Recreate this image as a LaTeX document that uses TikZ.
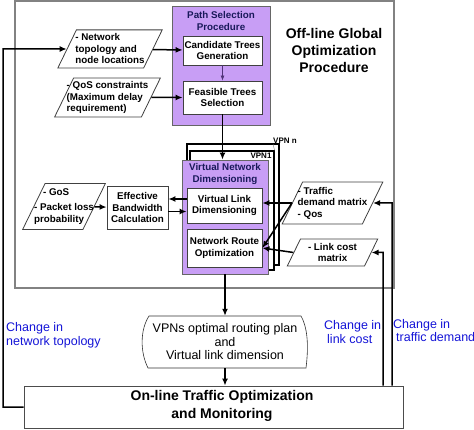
\documentclass[tikz,border=0pt]{standalone}
\usepackage{xcolor}
\usepackage{fontspec}
\setmainfont{Liberation Sans}
\usetikzlibrary{calc}
\usetikzlibrary{arrows}
\usetikzlibrary{arrows.meta}
\usetikzlibrary{shapes}
\usetikzlibrary{shapes.geometric}
\tikzset{>={Latex[length=7pt, width=6pt]}}
\definecolor{lilac}{RGB}{200,158,245}
\definecolor{navytext}{RGB}{25,25,90}
\definecolor{changeblue}{RGB}{20,20,215}
\definecolor{framegray}{RGB}{130,130,130}
\definecolor{plumline}{RGB}{80,50,120}
\newcommand{\boxfont}{\bfseries\fontsize{9.8}{11.5}\selectfont}
\newcommand{\bigfont}{\bfseries\fontsize{14}{17}\selectfont}
\newcommand{\notefont}{\fontsize{12.5}{13.5}\selectfont}
\tikzstyle{flow} = [->, line width = 1.5pt, draw = black]
\tikzstyle{proc} = [draw = black!75, fill = white, line width = 0.8pt, align = center, font = \boxfont, inner sep = 1]
\tikzstyle{param} = [trapezium, trapezium left angle = 64, trapezium right angle = 116, draw = black!75, fill = white, line width = 0.8pt, align = left, font = \boxfont]
\tikzstyle{group} = [draw = black!60, fill = lilac, line width = 0.8pt, inner sep = 0]
\tikzstyle{stack} = [draw = black, fill = white, line width = 1.2pt, inner sep = 0]
\tikzstyle{grouptitle} = [draw = none, align = center, font = \boxfont, text = navytext, inner sep = 1]
\tikzstyle{note} = [draw = none, align = left, anchor = west, inner sep = 0, text = changeblue, font = \notefont]

\begin{document}
\begin{tikzpicture}[x = 1pt, y = -1pt]
\useasboundingbox (0, 0) rectangle (474, 430);
\clip (0, 0) rectangle (474, 430);

% off-line part
\node [draw = framegray, line width = 1.3pt, minimum width = 379, minimum height = 287, inner sep = 0] (offline) at (204.5, 144.5) {};
\node [draw = none, align = center, font = \bigfont] (offtitle) at (334, 50) {Off-line Global\\Optimization\\Procedure};

% path selection
\node [group, minimum width = 98, minimum height = 119] (pathsel) at (221, 65.5) {};
\node [grouptitle] (pathtitle) at (221, 21) {Path Selection\\Procedure};
\node [proc, minimum width = 79, minimum height = 29] (cand) at (222.5, 50.5) {Candidate Trees\\Generation};
\node [proc, minimum width = 79, minimum height = 33] (feas) at (222.5, 97.5) {Feasible Trees\\Selection};
\draw [-{Latex[length=5pt, width=4pt]}, draw = plumline, line width = 0.8pt] (cand) to (feas);

\node [param, inner xsep = -1, inner ysep = 4] (topo) at (110, 49) {- Network\\topology and\\node locations};
\node [param, inner xsep = -7, inner ysep = 3.5] (qos) at (107.5, 97.5) {- QoS constraints\\(Maximum delay\\requirement)};
\draw [flow] (topo) to (cand);
\draw [flow] (qos) to (feas);

% VPN stack
\node [stack, minimum width = 92, minimum height = 121] (vpnn) at (233, 204.5) {};
\node [stack, minimum width = 84, minimum height = 119] (vpn1) at (232, 210.5) {};
\node [group, minimum width = 86, minimum height = 114] (vnd) at (225, 217) {};
\node [draw = none, font = \bfseries\fontsize{8}{9}\selectfont, inner sep = 0] (vpnnlabel) at (285, 141) {VPN n};
\node [draw = none, font = \bfseries\fontsize{8}{9}\selectfont, inner sep = 0] (vpn1label) at (261, 155.5) {VPN1};
\draw [draw = black!50, line width = 0.4pt] (vpnnlabel.south west) to (vpn1.north east);
\node [grouptitle] (vndtitle) at (225, 174) {Virtual Network\\Dimensioning};
\node [proc, minimum width = 75, minimum height = 35] (vld) at (224.5, 205.5) {Virtual Link\\Dimensioning};
\node [proc, minimum width = 75, minimum height = 38] (nro) at (224.5, 248) {Network Route\\Optimization};
\draw [flow] (feas.south) to (feas.south |- vnd.north);

% bandwidth
\node [proc, minimum width = 61, minimum height = 43] (ebc) at (137.5, 207.5) {Effective\\Bandwidth\\Calculation};
\node [param, inner xsep = -11, inner ysep = 5] (gos) at (64, 206.5) {\hspace*{9pt}- GoS\\[4pt]- Packet loss\\probability};
\coordinate (vl1) at ($(vld.west) + (0, -6.5)$);
\coordinate (vl2) at ($(vld.west) + (0, 6)$);
\draw [flow] (vl1) to (vl1 -| ebc.east);
\draw [flow] (vl2 -| ebc.east) to (vl2);
\draw [flow] (gos) to (ebc);

% traffic and cost
\node [param, inner xsep = -5, inner ysep = 5] (traffic) at (332.5, 203) {- Traffic\\demand matrix\\- Qos};
\node [param, align = center, inner xsep = 7.5, inner ysep = 4.25] (cost) at (332.5, 252.5) {- Link cost\\matrix};
\draw [flow] (traffic.left side) to (traffic.left side -| vld.east);
\draw [flow] (traffic.left side) to (nro.east);
\draw [flow] (cost.left side) to (nro.east);

% output
\node [draw = none, minimum width = 152, minimum height = 52, align = center, font = \notefont, inner sep = 0] (plan) at (225, 342) {VPNs optimal routing plan\\and\\Virtual link dimension};
\draw [draw = black!80, line width = 0.6pt] ($(plan) + (-76, -26)$) -- ($(plan) + (76, -26)$) .. controls ($(plan) + (84, -12)$) and ($(plan) + (83, 10)$) .. ($(plan) + (81, 26)$) -- ($(plan) + (-77, 26)$) .. controls ($(plan) + (-85, 10)$) and ($(plan) + (-85, -12)$) .. cycle;
\draw [flow] (vnd.south) to (plan.north);

\node [draw = black!70, line width = 0.8pt, minimum width = 379, minimum height = 42, inner sep = 0] (online) at (213.5, 407) {};
\node [draw = none, align = center, font = \bfseries\fontsize{14}{18}\selectfont] (onlinetitle) at (222, 406) {On-line Traffic Optimization\\and Monitoring};
\draw [flow] (plan.south) to (plan.south |- online.north);

% feedback loops
\coordinate (leftturn) at (3, 49);
\draw [flow] (online.west) -| (leftturn) to (topo);
\coordinate (costturn) at (383, 252.5);
\coordinate (trafficturn) at (392, 203);
\draw [flow] (costturn |- online.north) -- (costturn) to (cost);
\draw [flow] (trafficturn |- online.north) -- (trafficturn) to (traffic);

\node [note] (topochange) at (6, 335.5) {Change in\\network topology};
\node [note] (costchange) at (324, 332) {Change in\\\hspace*{3pt}link cost};
\node [note] (demandchange) at (393, 330.5) {Change in\\\hspace*{3pt}traffic demand};
\end{tikzpicture}
\end{document}
